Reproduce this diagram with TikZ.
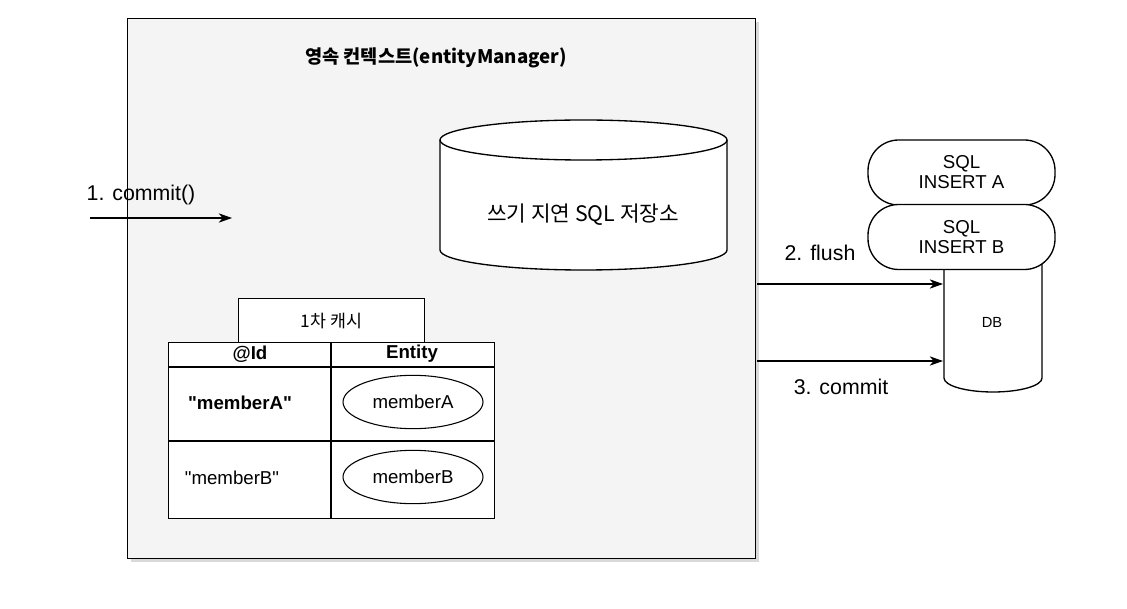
\documentclass[tikz,border=0pt]{standalone}
\usepackage{fontspec}
\setmainfont{Liberation Sans}
\newfontfamily\kr{Noto Sans CJK KR}
\usetikzlibrary{positioning,shadows,shapes.geometric,arrows.meta}
\definecolor{ctxgray}{HTML}{F4F4F4}
\tikzset{
  box/.style={draw, line width=1pt},
  pill/.style={draw, line width=1pt, fill=white, rounded corners=23pt, minimum width=140.25pt, minimum height=48.75pt, align=center, font=\fontsize{14}{15}\selectfont, inner sep=0pt},
  ent/.style={draw, ellipse, line width=0.8pt, minimum width=105pt, minimum height=40pt, font=\fontsize{14}{15}\selectfont},
  lbl/.style={font=\fontsize{16}{17}\selectfont},
  arr/.style={-{Stealth[length=10pt,width=7pt,inset=3pt]}, line width=0.8pt},
}
\begin{document}
\begin{tikzpicture}[x=0.75pt, y=-0.75pt]
   \useasboundingbox (0,0) rectangle (1127,609);
   % persistence context
   \node (ctx) [box, fill=ctxgray, drop shadow={opacity=0.3}, minimum width=471pt, minimum height=405pt, anchor=north west, inner sep=0pt] at (127,18) {};
   \node (title) at (436,58) {\kr\bfseries\fontsize{14}{15}\selectfont 영속 컨텍스트(entityManager)};
   % write-behind store
   \draw[box, fill=white] (440,140) -- (440,250) arc[start angle=180, end angle=360, x radius=143.5, y radius=-20] -- (727,140);
   \draw[box, fill=white] (583.5,140) ellipse[x radius=143.5, y radius=20];
   \node (store) at (583,215) {\kr\fontsize{16}{17}\selectfont 쓰기 지연 SQL 저장소};
   % commit
   \node (cm) [lbl] at (141,195) {1. commit()};
   \coordinate (cmA) at (90,218);
   \coordinate (cmB) at (232,218);
   \draw[arr] (cmA) -- (cmB);
   % first-level cache
   \node (tab) [box, fill=white, minimum width=139.5pt, minimum height=33pt, inner sep=0pt, anchor=north west] at (238,298) {\kr\fontsize{13}{14}\selectfont 1차 캐시};
   \node (tbl) [box, fill=white, minimum width=244.5pt, minimum height=132pt, inner sep=0pt, anchor=north west] at (168,342) {};
   \draw[box] (168,367) -- (494,367);
   \draw[box] (168,441) -- (494,441);
   \draw[box] (331,342) -- (331,518);
   \node (hid) at (250,354) {\bfseries\fontsize{14}{15}\selectfont @Id};
   \node (hent) at (412,354) {\bfseries\fontsize{14}{15}\selectfont Entity};
   \node (ka) at (240,403) {\bfseries\fontsize{14}{15}\selectfont \textquotedbl memberA\textquotedbl};
   \node (kb) at (232,478) {\fontsize{14}{15}\selectfont \textquotedbl memberB\textquotedbl};
   \node (ea) [ent] at (413,402) {memberA};
   \node (eb) [ent] at (413,477) {memberB};
   % database
   \draw[box, fill=white] (944,262) -- (944,378) arc[start angle=180, end angle=360, x radius=49, y radius=-14] -- (1042,262);
   \node (db) at (992,322) {\fontsize{11}{12}\selectfont DB};
   \node (sqla) [pill] at (961.5,172.5) {SQL\\INSERT A};
   \node (sqlb) [pill] at (961.5,237) {SQL\\INSERT B};
   \coordinate (fA) at (757,284);
   \coordinate (fB) at (943,284);
   \coordinate (cA) at (757,361);
   \coordinate (cB) at (943,361);
   \draw[arr] (fA) -- (fB);
   \draw[arr] (cA) -- (cB);
   \node (fl) [lbl] at (820,253) {2. flush};
   \node (co) [lbl] at (841,387) {3. commit};
\end{tikzpicture}
\end{document}
